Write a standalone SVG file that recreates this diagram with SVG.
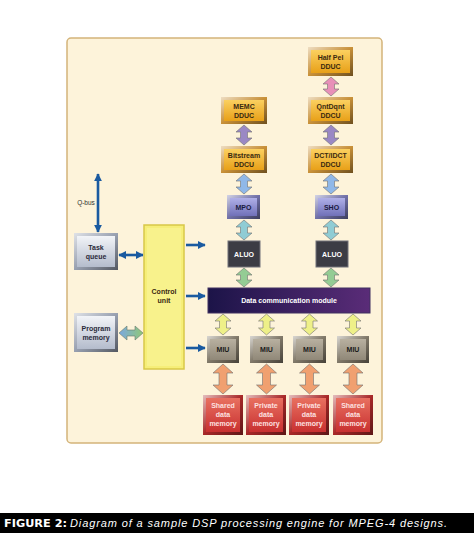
<svg xmlns="http://www.w3.org/2000/svg" width="474" height="533" viewBox="0 0 474 533">
<defs>
<linearGradient id="bev" x1="0" y1="0" x2="1" y2="1"><stop offset="0" stop-color="#fff" stop-opacity="0.7"/><stop offset="0.5" stop-color="#fff" stop-opacity="0"/><stop offset="0.5" stop-color="#000" stop-opacity="0"/><stop offset="1" stop-color="#000" stop-opacity="0.45"/></linearGradient>
<linearGradient id="gOr" x1="0" y1="0" x2="0" y2="1"><stop offset="0" stop-color="#fbd060"/><stop offset="1" stop-color="#e8a018"/></linearGradient>
<linearGradient id="gBl" x1="0" y1="0" x2="0" y2="1"><stop offset="0" stop-color="#b0b0e8"/><stop offset="1" stop-color="#7070b8"/></linearGradient>
<linearGradient id="gGy" x1="0" y1="0" x2="0" y2="1"><stop offset="0" stop-color="#f2f4f8"/><stop offset="1" stop-color="#b4bccc"/></linearGradient>
<linearGradient id="gMi" x1="0" y1="0" x2="0" y2="1"><stop offset="0" stop-color="#b8b0a0"/><stop offset="1" stop-color="#908878"/></linearGradient>
<linearGradient id="gRd" x1="0" y1="0" x2="0" y2="1"><stop offset="0" stop-color="#e87060"/><stop offset="1" stop-color="#c83030"/></linearGradient>
<linearGradient id="gDc" x1="0" y1="0" x2="1" y2="0"><stop offset="0" stop-color="#1c1448"/><stop offset="1" stop-color="#5a2c78"/></linearGradient>
<linearGradient id="gPm" x1="0" y1="0" x2="1" y2="0"><stop offset="0" stop-color="#7aa8e0"/><stop offset="1" stop-color="#90c878"/></linearGradient>
<marker id="ah" viewBox="0 0 10 10" refX="9" refY="5" markerWidth="3" markerHeight="3" orient="auto-start-reverse"><path d="M0,0 L10,5 L0,10 Z" fill="#1a5aa0"/></marker>
</defs>
<style>
.t{font-family:"Liberation Sans",Arial,sans-serif;font-weight:bold;font-size:7px;text-anchor:middle}
.dk{fill:#3a2a10}
.wh{fill:#fff}
.pk{fill:#fde0e0}
.fa{stroke:#707070;stroke-width:0.6}
.pink{fill:#e890b8}.purp{fill:#9a88c4}.lb{fill:#90b8e8}.cy{fill:#90ccd4}.gr{fill:#94cc94}.ye{fill:#eef088}.orng{fill:#f0a070}
.bl{stroke:#1a5aa0;stroke-width:2.6;fill:none}
</style>
<rect x="0" y="0" width="474" height="533" fill="#fff"/>
<rect id="panel" x="67" y="38" width="315" height="405" rx="4" fill="#fdf3da" stroke="#d4b47a" stroke-width="1.5"/>

<g id="connectors">
<path class="fa pink" d="M331,77 L339,84 L334.5,84 L334.5,89 L339,89 L331,96 L323,89 L327.5,89 L327.5,84 L323,84 Z"/>
<path class="fa purp" d="M331,125 L339,132 L334.5,132 L334.5,138 L339,138 L331,145 L323,138 L327.5,138 L327.5,132 L323,132 Z"/>
<path class="fa purp" d="M244,125 L252,132 L247.5,132 L247.5,138 L252,138 L244,145 L236,138 L240.5,138 L240.5,132 L236,132 Z"/>
<path class="fa lb" d="M244,174 L252,181 L247.5,181 L247.5,187 L252,187 L244,194 L236,187 L240.5,187 L240.5,181 L236,181 Z"/>
<path class="fa lb" d="M331,174 L339,181 L334.5,181 L334.5,187 L339,187 L331,194 L323,187 L327.5,187 L327.5,181 L323,181 Z"/>
<path class="fa cy" d="M244,220 L252,227 L247.5,227 L247.5,233 L252,233 L244,240 L236,233 L240.5,233 L240.5,227 L236,227 Z"/>
<path class="fa cy" d="M331,220 L339,227 L334.5,227 L334.5,233 L339,233 L331,240 L323,233 L327.5,233 L327.5,227 L323,227 Z"/>
<path class="fa gr" d="M244,268 L252,275 L247.5,275 L247.5,280 L252,280 L244,287 L236,280 L240.5,280 L240.5,275 L236,275 Z"/>
<path class="fa gr" d="M331,268 L339,275 L334.5,275 L334.5,280 L339,280 L331,287 L323,280 L327.5,280 L327.5,275 L323,275 Z"/>
<path class="fa ye" d="M223,314 L231,321 L226.5,321 L226.5,328 L231,328 L223,335 L215,328 L219.5,328 L219.5,321 L215,321 Z"/>
<path class="fa ye" d="M266.5,314 L274.5,321 L270,321 L270,328 L274.5,328 L266.5,335 L258.5,328 L263,328 L263,321 L258.5,321 Z"/>
<path class="fa ye" d="M309.5,314 L317.5,321 L313,321 L313,328 L317.5,328 L309.5,335 L301.5,328 L306,328 L306,321 L301.5,321 Z"/>
<path class="fa ye" d="M353,314 L361,321 L356.5,321 L356.5,328 L361,328 L353,335 L345,328 L349.5,328 L349.5,321 L345,321 Z"/>
<path class="fa orng" d="M223,364 L233,373 L227,373 L227,385 L233,385 L223,394 L213,385 L219,385 L219,373 L213,373 Z"/>
<path class="fa orng" d="M266.5,364 L276.5,373 L270.5,373 L270.5,385 L276.5,385 L266.5,394 L256.5,385 L262.5,385 L262.5,373 L256.5,373 Z"/>
<path class="fa orng" d="M309.5,364 L319.5,373 L313.5,373 L313.5,385 L319.5,385 L309.5,394 L299.5,385 L305.5,385 L305.5,373 L299.5,373 Z"/>
<path class="fa orng" d="M353,364 L363,373 L357,373 L357,385 L363,385 L353,394 L343,385 L349,385 L349,373 L343,373 Z"/>
<line class="bl" x1="98" y1="174" x2="98" y2="232" marker-start="url(#ah)" marker-end="url(#ah)"/>
<line class="bl" x1="119" y1="255" x2="143" y2="255" marker-start="url(#ah)" marker-end="url(#ah)"/>
<path d="M119,333 L127,326 L127,330 L135,330 L135,326 L143,333 L135,340 L135,336 L127,336 L127,340 Z" fill="url(#gPm)" stroke="#6a7a6a" stroke-width="0.6"/>
<line class="bl" x1="186" y1="245" x2="205" y2="245" marker-end="url(#ah)"/>
<line class="bl" x1="186" y1="296" x2="205" y2="296" marker-end="url(#ah)"/>
<line class="bl" x1="186" y1="348" x2="205" y2="348" marker-end="url(#ah)"/>
<text class="t" x="86" y="205" style="font-weight:normal;font-size:6.5px;fill:#333">Q-bus</text>
</g>

<g id="halfpel"><rect x="308" y="47" width="45" height="29" fill="#c89038"/><rect x="308" y="47" width="45" height="29" fill="url(#bev)"/><rect x="311" y="50" width="39" height="23" fill="url(#gOr)"/><text class="t dk" x="330.5" y="60">Half Pel</text><text class="t dk" x="330.5" y="69">DDUC</text></g>
<g id="qntdqnt"><rect x="308" y="97" width="45" height="27" fill="#c89038"/><rect x="308" y="97" width="45" height="27" fill="url(#bev)"/><rect x="311" y="100" width="39" height="21" fill="url(#gOr)"/><text class="t dk" x="330.5" y="109">QntDqnt</text><text class="t dk" x="330.5" y="118">DDCU</text></g>
<g id="dct"><rect x="308" y="146" width="45" height="27" fill="#c89038"/><rect x="308" y="146" width="45" height="27" fill="url(#bev)"/><rect x="311" y="149" width="39" height="21" fill="url(#gOr)"/><text class="t dk" x="330.5" y="158">DCT/IDCT</text><text class="t dk" x="330.5" y="167">DDCU</text></g>
<g id="memc"><rect x="221" y="97" width="46" height="27" fill="#c89038"/><rect x="221" y="97" width="46" height="27" fill="url(#bev)"/><rect x="224" y="100" width="40" height="21" fill="url(#gOr)"/><text class="t dk" x="244" y="109">MEMC</text><text class="t dk" x="244" y="118">DDUC</text></g>
<g id="bitstream"><rect x="221" y="146" width="46" height="27" fill="#c89038"/><rect x="221" y="146" width="46" height="27" fill="url(#bev)"/><rect x="224" y="149" width="40" height="21" fill="url(#gOr)"/><text class="t dk" x="244" y="158">Bitstream</text><text class="t dk" x="244" y="167">DDCU</text></g>

<g id="mpo"><rect x="227" y="195" width="33" height="24" fill="#7070a8"/><rect x="227" y="195" width="33" height="24" fill="url(#bev)"/><rect x="230" y="198" width="27" height="18" fill="url(#gBl)"/><text class="t" x="243.5" y="210" fill="#1a1a40">MPO</text></g>
<g id="sho"><rect x="315" y="195" width="33" height="24" fill="#7070a8"/><rect x="315" y="195" width="33" height="24" fill="url(#bev)"/><rect x="318" y="198" width="27" height="18" fill="url(#gBl)"/><text class="t" x="331.5" y="210" fill="#1a1a40">SHO</text></g>

<g id="aluo1"><rect x="228" y="241" width="32" height="26" fill="#3c3c44" stroke="#707078" stroke-width="1"/><text class="t wh" x="244" y="257">ALUO</text></g>
<g id="aluo2"><rect x="316" y="241" width="32" height="26" fill="#3c3c44" stroke="#707078" stroke-width="1"/><text class="t wh" x="332" y="257">ALUO</text></g>

<g id="dcm"><rect x="208" y="288" width="162" height="25" fill="url(#gDc)" stroke="#403060" stroke-width="1"/><text class="t wh" x="289" y="303">Data communication module</text></g>

<g id="control"><rect x="144" y="225" width="40" height="144" fill="#f6ee78" stroke="#d8c848" stroke-width="1.5"/><rect x="147" y="228" width="34" height="138" fill="#f8f28c"/><text class="t dk" x="164" y="294">Control</text><text class="t dk" x="164" y="303">unit</text></g>

<g id="taskqueue"><rect x="74" y="233" width="44" height="37" fill="#98a0b0"/><rect x="74" y="233" width="44" height="37" fill="url(#bev)"/><rect x="77" y="236" width="38" height="31" fill="url(#gGy)"/><text class="t" x="96" y="250" fill="#2a2a3a">Task</text><text class="t" x="96" y="259" fill="#2a2a3a">queue</text></g>
<g id="progmem"><rect x="74" y="313" width="44" height="39" fill="#98a0b0"/><rect x="74" y="313" width="44" height="39" fill="url(#bev)"/><rect x="77" y="316" width="38" height="33" fill="url(#gGy)"/><text class="t" x="96" y="331" fill="#2a2a3a">Program</text><text class="t" x="96" y="340" fill="#2a2a3a">memory</text></g>

<g id="miu1"><rect x="207" y="336" width="32" height="27" fill="#807868"/><rect x="207" y="336" width="32" height="27" fill="url(#bev)"/><rect x="210" y="339" width="26" height="21" fill="url(#gMi)"/><text class="t" x="223" y="352" fill="#1a1a1a">MIU</text></g>
<g id="miu2"><rect x="250" y="336" width="33" height="27" fill="#807868"/><rect x="250" y="336" width="33" height="27" fill="url(#bev)"/><rect x="253" y="339" width="27" height="21" fill="url(#gMi)"/><text class="t" x="266.5" y="352" fill="#1a1a1a">MIU</text></g>
<g id="miu3"><rect x="293" y="336" width="33" height="27" fill="#807868"/><rect x="293" y="336" width="33" height="27" fill="url(#bev)"/><rect x="296" y="339" width="27" height="21" fill="url(#gMi)"/><text class="t" x="309.5" y="352" fill="#1a1a1a">MIU</text></g>
<g id="miu4"><rect x="337" y="336" width="32" height="27" fill="#807868"/><rect x="337" y="336" width="32" height="27" fill="url(#bev)"/><rect x="340" y="339" width="26" height="21" fill="url(#gMi)"/><text class="t" x="353" y="352" fill="#1a1a1a">MIU</text></g>

<g id="mem1"><rect x="203" y="395" width="40" height="40" fill="#a82828"/><rect x="203" y="395" width="40" height="40" fill="url(#bev)"/><rect x="206" y="398" width="34" height="34" fill="url(#gRd)"/><text class="t pk" x="223" y="408">Shared</text><text class="t pk" x="223" y="417">data</text><text class="t pk" x="223" y="426">memory</text></g>
<g id="mem2"><rect x="246" y="395" width="40" height="40" fill="#a82828"/><rect x="246" y="395" width="40" height="40" fill="url(#bev)"/><rect x="249" y="398" width="34" height="34" fill="url(#gRd)"/><text class="t pk" x="266" y="408">Private</text><text class="t pk" x="266" y="417">data</text><text class="t pk" x="266" y="426">memory</text></g>
<g id="mem3"><rect x="289" y="395" width="40" height="40" fill="#a82828"/><rect x="289" y="395" width="40" height="40" fill="url(#bev)"/><rect x="292" y="398" width="34" height="34" fill="url(#gRd)"/><text class="t pk" x="309" y="408">Private</text><text class="t pk" x="309" y="417">data</text><text class="t pk" x="309" y="426">memory</text></g>
<g id="mem4"><rect x="333" y="395" width="40" height="40" fill="#a82828"/><rect x="333" y="395" width="40" height="40" fill="url(#bev)"/><rect x="336" y="398" width="34" height="34" fill="url(#gRd)"/><text class="t pk" x="353" y="408">Shared</text><text class="t pk" x="353" y="417">data</text><text class="t pk" x="353" y="426">memory</text></g>

<g id="caption"><rect x="0" y="513" width="474" height="20" fill="#000"/>
<text x="4" y="527" font-family="'DejaVu Sans',sans-serif" font-weight="bold" font-size="11" fill="#fff" textLength="63" lengthAdjust="spacingAndGlyphs">FIGURE 2:</text>
<text x="70" y="527" font-family="'Liberation Sans',Arial,sans-serif" font-style="italic" font-size="11" fill="#fff" textLength="377" lengthAdjust="spacing">Diagram of a sample DSP processing engine for MPEG-4 designs.</text></g>
</svg>
